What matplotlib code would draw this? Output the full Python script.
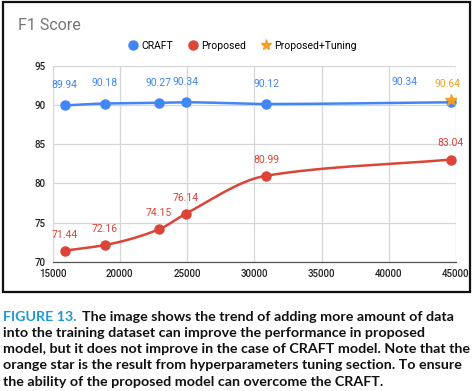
import numpy as np
import matplotlib
matplotlib.use("Agg")
import matplotlib.pyplot as plt
from matplotlib.patches import Rectangle
from matplotlib.lines import Line2D

# data
samples = [15900, 18900, 22900, 24900, 30900, 44600]
craft = [89.94, 90.18, 90.27, 90.34, 90.12, 90.34]
proposed = [71.44, 72.16, 74.15, 76.14, 80.99, 83.04]
tuned_x = [44600]
tuned = [90.64]
x_ticks = [15000, 20000, 25000, 30000, 35000, 40000, 45000]
y_ticks = [70, 75, 80, 85, 90, 95]

BLUE = "#4285F4"
RED = "#DB4437"
ORANGE = "#F4A020"


def smooth(x, y, n=40):
    # monotone cubic curve for drawing only (like the sheet's smoothed line)
    x = np.asarray(x, float)
    y = np.asarray(y, float)
    h = np.diff(x)
    d = np.diff(y) / h
    m = np.zeros_like(y)
    m[0], m[-1] = d[0], d[-1]
    for i in range(1, len(x) - 1):
        if d[i - 1] * d[i] <= 0:
            m[i] = 0
        else:
            w1 = 2 * h[i] + h[i - 1]
            w2 = h[i] + 2 * h[i - 1]
            m[i] = (w1 + w2) / (w1 / d[i - 1] + w2 / d[i])
    xs, ys = [], []
    for i in range(len(x) - 1):
        t = np.linspace(0, 1, n)
        h00 = 2 * t**3 - 3 * t**2 + 1
        h10 = t**3 - 2 * t**2 + t
        h01 = -2 * t**3 + 3 * t**2
        h11 = t**3 - t**2
        xs.append(x[i] + t * h[i])
        ys.append(h00 * y[i] + h10 * h[i] * m[i] + h01 * y[i + 1] + h11 * h[i] * m[i + 1])
    return np.concatenate(xs), np.concatenate(ys)


plt.rcParams['font.family'] = ['Roboto', 'DejaVu Sans']

fig = plt.figure(figsize=(4.74, 3.91), dpi=100)
ax = fig.add_axes([0.111, 0.330, 0.851, 0.502])

sx, sy = smooth(samples, craft)
ax.plot(sx, sy, color=BLUE, lw=1.8, zorder=3)
ax.plot(samples, craft, "o", color=BLUE, ms=6.5, zorder=4)
sx, sy = smooth(samples, proposed)
ax.plot(sx, sy, color=RED, lw=1.8, zorder=3)
ax.plot(samples, proposed, "o", color=RED, ms=6.5, zorder=4)
ax.plot(tuned_x, tuned, "*", color=ORANGE, ms=9, zorder=5)

for i, (xv, yv) in enumerate(zip(samples, craft)):
    dx = -33 if i == len(samples) - 1 else 0
    ax.annotate(f"{yv:.2f}", (xv, yv), xytext=(dx, 11), textcoords="offset points",
                ha="center", va="bottom", fontsize=7.5, color=BLUE)
for xv, yv in zip(samples, proposed):
    ax.annotate(f"{yv:.2f}", (xv, yv), xytext=(0, 8), textcoords="offset points",
                ha="center", va="bottom", fontsize=7.5, color=RED)
for xv, yv in zip(tuned_x, tuned):
    ax.annotate(f"{yv:.2f}", (xv, yv), xytext=(-2, 8), textcoords="offset points",
                ha="center", va="bottom", fontsize=7.5, color=ORANGE)

ax.set_xlim(15000, 45000)
ax.set_ylim(70, 95)
ax.set_xticks(x_ticks)
ax.set_yticks(y_ticks)
ax.grid(True, color="#d6d6d6", lw=0.9)
ax.set_axisbelow(True)
for s in ["top", "right", "left"]:
    ax.spines[s].set_visible(False)
ax.spines["bottom"].set_color("#555555")
ax.spines["bottom"].set_linewidth(0.9)
ax.tick_params(length=0, labelsize=7, colors="#222222", pad=5)
for lab in ax.get_xticklabels() + ax.get_yticklabels():
    lab.set_fontweight("medium")

fig.text(0.038, 0.935, "F1 Score", fontsize=11.5, color="#757575", va="center")

handles = [
    Line2D([], [], ls="none", marker="o", color=BLUE, ms=6.5),
    Line2D([], [], ls="none", marker="o", color=RED, ms=6.5),
    Line2D([], [], ls="none", marker="*", color=ORANGE, ms=8),
]
fig.legend(handles, ["CRAFT", "Proposed", "Proposed+Tuning"], loc="center",
           bbox_to_anchor=(0.51, 0.882), ncol=3, frameon=False, fontsize=7.5,
           handletextpad=0.2, columnspacing=1.3, handlelength=1.2)

fig.patches.append(Rectangle((0.007, 0.254), 0.985, 0.741, transform=fig.transFigure,
                             fill=False, ec="#111111", lw=1.6))

# caption
cap_font = ['Lato', 'DejaVu Sans']
head = "The image shows the trend of adding more amount of data"
lines = [
    "into the training dataset can improve the performance in proposed",
    "model, but it does not improve in the case of CRAFT model. Note that the",
    "orange star is the result from hyperparameters tuning section. To ensure",
    "the ability of the proposed model can overcome the CRAFT.",
]
base = 1 - 320.7 / 391
step = 16.25 / 391
x0 = 0.006

# fit the widest line to the reference width (~468 px)
probe = fig.text(0, 0, lines[1], fontsize=10, fontweight="bold", family=cap_font)
fig.canvas.draw()
w = probe.get_window_extent().width
probe.remove()
fs = 10 * 468 / w

t = fig.text(x0, base, "FIGURE 13.", fontsize=fs, fontweight="bold", color="#1a9ad6",
             family=cap_font, va="baseline")
fig.canvas.draw()
bb = t.get_window_extent()
fig.text(bb.x1 / 474 + 0.012, base, head, fontsize=fs, fontweight="bold",
         color="#111111", family=cap_font, va="baseline")
for k, ln in enumerate(lines):
    fig.text(x0, base - (k + 1) * step, ln, fontsize=fs, fontweight="bold",
             color="#111111", family=cap_font, va="baseline")

fig.savefig("out.png", dpi=100)
